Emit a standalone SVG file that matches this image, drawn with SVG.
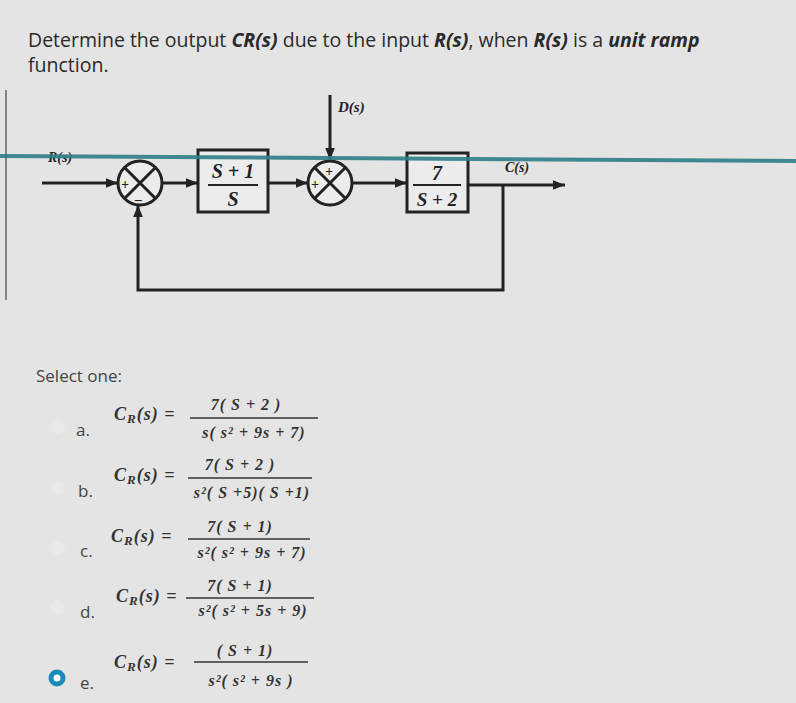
<svg xmlns="http://www.w3.org/2000/svg" width="796" height="703" viewBox="0 0 796 703">
<defs>
<marker id="arb" viewBox="0 0 10 10" refX="10" refY="5" markerWidth="18" markerHeight="12" markerUnits="userSpaceOnUse" orient="auto"><path d="M0,1 L10,5 L0,9 z" fill="#222"/></marker>
<style>
.q{font-family:"Open Sans",sans-serif;font-size:19.5px;fill:#2a2a2a}
.o{font-family:"Open Sans",sans-serif;font-size:17px;fill:#444}
.m{font-family:"Liberation Serif",serif;font-style:italic;font-weight:bold;fill:#222}
.w{stroke:#222;stroke-width:3;fill:none}
.b{stroke:#222;stroke-width:3;fill:#ececec}
</style>
</defs>
<rect width="796" height="703" fill="#e4e4e4"/>
<line x1="6" y1="90" x2="6" y2="300" stroke="#666" stroke-width="1.5"/>
<text class="q" x="28" y="47">Determine the output <tspan font-weight="bold" font-style="italic">CR(s)</tspan> due to the input <tspan font-weight="bold" font-style="italic">R(s)</tspan>, when <tspan font-weight="bold" font-style="italic">R(s)</tspan> is a <tspan font-weight="bold" font-style="italic">unit ramp</tspan></text>
<text class="q" x="28" y="72">function.</text>
<g id="connectors">
<line class="w" x1="42" y1="183" x2="118" y2="183" marker-end="url(#arb)"/>
<line class="w" x1="162" y1="183" x2="198" y2="183" marker-end="url(#arb)"/>
<line class="w" x1="268" y1="183" x2="308" y2="183" marker-end="url(#arb)"/>
<line class="w" x1="330" y1="95" x2="330" y2="160" marker-end="url(#arb)"/>
<line class="w" x1="352" y1="183" x2="407" y2="183" marker-end="url(#arb)"/>
<line class="w" x1="468" y1="185" x2="565" y2="185" marker-end="url(#arb)"/>
<polyline class="w" points="503,185 503,290 138,290 138,205" marker-end="url(#arb)"/>
</g>
<g id="sum1"><circle class="b" cx="140" cy="183" r="22"/><path class="w" d="M124,167 L156,199 M156,167 L124,199" stroke-width="2.5"/><text class="m" x="121" y="189" font-size="14">+</text><text class="m" x="135" y="204" font-size="14">–</text></g>
<g id="block1"><rect class="b" x="198" y="150" width="70" height="62"/><text class="m" x="233" y="178" font-size="20" text-anchor="middle">S + 1</text><line x1="208" y1="185" x2="258" y2="185" stroke="#222" stroke-width="2"/><text class="m" x="233" y="206" font-size="20" text-anchor="middle">S</text></g>
<g id="sum2"><circle class="b" cx="330" cy="183" r="22"/><path class="w" d="M314,167 L346,199 M346,167 L314,199" stroke-width="2.5"/><text class="m" x="325" y="176" font-size="14">+</text><text class="m" x="311" y="189" font-size="14">+</text></g>
<g id="block2"><rect class="b" x="407" y="153" width="61" height="59"/><text class="m" x="437" y="180" font-size="20" text-anchor="middle">7</text><line x1="413" y1="185" x2="461" y2="185" stroke="#222" stroke-width="2"/><text class="m" x="437" y="206" font-size="19" text-anchor="middle">S + 2</text></g>
<text class="m" x="338" y="112" font-size="15">D(s)</text>
<text class="m" x="48" y="162" font-size="14">R(s)</text>
<text class="m" x="505" y="172" font-size="14">C(s)</text>
<line x1="0" y1="156" x2="796" y2="161" stroke="#2e7f88" stroke-width="4" opacity="0.9"/>
<text class="o" x="36" y="382">Select one:</text>
<g id="options" font-family="Liberation Serif,serif" font-style="italic" font-weight="bold" fill="#333" letter-spacing="1">
<circle cx="58" cy="427" r="7" fill="#e9e9e9"/><text class="o" x="76" y="436" font-style="normal" font-weight="normal" letter-spacing="0">a.</text>
<text x="114" y="420" font-size="18">C<tspan font-size="13" dy="3">R</tspan><tspan dy="-3">(s) =</tspan></text>
<text x="246" y="410" font-size="16" text-anchor="middle">7( S + 2 )</text><line x1="190" y1="418" x2="318" y2="418" stroke="#333" stroke-width="1.5"/><text x="254" y="438" font-size="16" text-anchor="middle">s( s² + 9s + 7)</text>
<circle cx="58" cy="488" r="7" fill="#e9e9e9"/><text class="o" x="78" y="497" font-style="normal" font-weight="normal" letter-spacing="0">b.</text>
<text x="114" y="481" font-size="18">C<tspan font-size="13" dy="3">R</tspan><tspan dy="-3">(s) =</tspan></text>
<text x="240" y="470" font-size="16" text-anchor="middle">7( S + 2 )</text><line x1="188" y1="478" x2="312" y2="478" stroke="#333" stroke-width="1.5"/><text x="252" y="498" font-size="16" text-anchor="middle">s²( S +5)( S +1)</text>
<circle cx="58" cy="548" r="7" fill="#e9e9e9"/><text class="o" x="80" y="557" font-style="normal" font-weight="normal" letter-spacing="0">c.</text>
<text x="111" y="542" font-size="18">C<tspan font-size="13" dy="3">R</tspan><tspan dy="-3">(s) =</tspan></text>
<text x="240" y="532" font-size="16" text-anchor="middle">7( S + 1)</text><line x1="188" y1="539" x2="310" y2="539" stroke="#333" stroke-width="1.5"/><text x="252" y="558" font-size="16" text-anchor="middle">s²( s² + 9s + 7)</text>
<circle cx="58" cy="607" r="7" fill="#e9e9e9"/><text class="o" x="80" y="618" font-style="normal" font-weight="normal" letter-spacing="0">d.</text>
<text x="116" y="602" font-size="18">C<tspan font-size="13" dy="3">R</tspan><tspan dy="-3">(s) =</tspan></text>
<text x="240" y="591" font-size="16" text-anchor="middle">7( S + 1)</text><line x1="186" y1="598" x2="314" y2="598" stroke="#333" stroke-width="1.5"/><text x="253" y="616" font-size="16" text-anchor="middle">s²( s² + 5s + 9)</text>
<circle cx="57" cy="678" r="6" fill="#fff" stroke="#1a8bb8" stroke-width="5"/><text class="o" x="80" y="689" font-style="normal" font-weight="normal" letter-spacing="0">e.</text>
<text x="114" y="668" font-size="18">C<tspan font-size="13" dy="3">R</tspan><tspan dy="-3">(s) =</tspan></text>
<text x="245" y="656" font-size="16" text-anchor="middle">( S + 1)</text><line x1="194" y1="662" x2="308" y2="662" stroke="#333" stroke-width="1.5"/><text x="251" y="686" font-size="16" text-anchor="middle">s²( s² + 9s )</text>
</g>
</svg>
